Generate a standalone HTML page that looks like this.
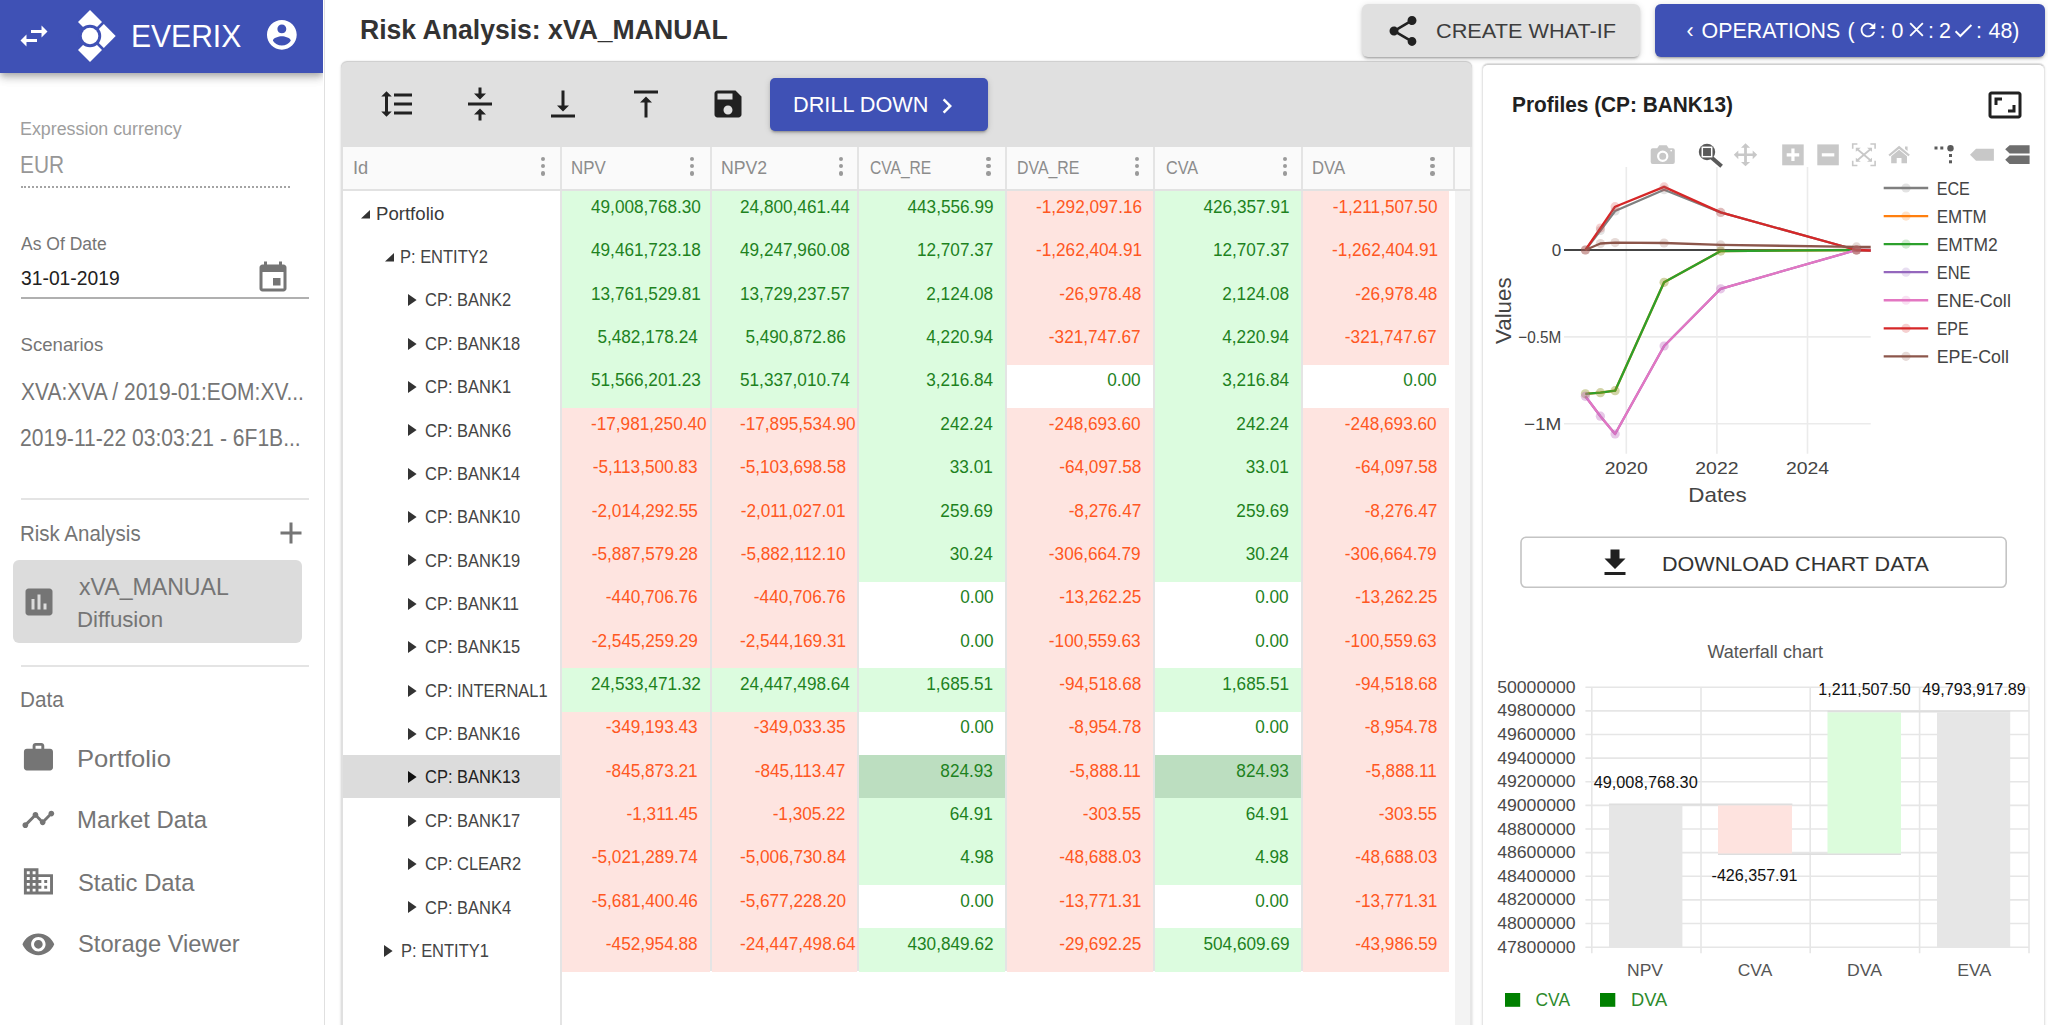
<!DOCTYPE html>
<html><head><meta charset="utf-8"><title>Everix</title>
<style>
html,body{margin:0;padding:0;background:#fff;}
body{width:2048px;height:1025px;overflow:hidden;position:relative;font-family:"Liberation Sans",sans-serif;}
.t{position:absolute;white-space:nowrap;line-height:1;}
svg{display:block;}
</style></head><body>

<div style="position:absolute;left:323.6px;top:0px;width:1.3px;height:1025px;background:#e0e0e0;"></div>
<div style="position:absolute;left:0px;top:0px;width:323px;height:73px;background:#3f51b5;box-shadow:0 3px 6px -1px rgba(0,0,0,.22),0 6px 8px 0 rgba(0,0,0,.12),0 1px 14px 0 rgba(0,0,0,.10);clip-path:inset(0 0 -30px -30px);"></div>
<svg style="position:absolute;left:15.6px;top:17.9px;" width="36" height="36" viewBox="0 0 24 24"><path fill="#fff" d="M6.99 11L3 15l3.99 4v-3H14v-2H6.99v-3zM21 9l-3.99-4v3H10v2h7.01v3L21 9z"/></svg>
<svg style="position:absolute;left:70px;top:6px" width="52" height="60" viewBox="70 6 52 60">
<path fill="#fff" d="M90 10 L102 22 L90 34 L78 22 Z"/>
<path fill="#fff" d="M103.8 24 L115.7 36 L103.8 48 L91.8 36 Z"/>
<path fill="#fff" d="M78 50 L90 38 L102 50 L90 62 Z"/>
<circle cx="90" cy="36" r="11.2" fill="#3f51b5"/>
<circle cx="90" cy="36" r="8.3" fill="#fff"/>
</svg>
<div class="t" style="left:130.78px;top:20.92px;font-size:31.4px;color:#fff;font-weight:normal;transform:scaleX(0.9576);transform-origin:left top;">EVERIX</div>
<svg style="position:absolute;left:264.1px;top:16.5px;" width="35.7" height="35.7" viewBox="0 0 24 24"><path fill="#fff" d="M12 2C6.48 2 2 6.48 2 12s4.48 10 10 10 10-4.48 10-10S17.52 2 12 2zm0 3c1.66 0 3 1.34 3 3s-1.34 3-3 3-3-1.34-3-3 1.34-3 3-3zm0 14.2c-2.5 0-4.71-1.28-6-3.22.03-1.99 4-3.08 6-3.08 1.99 0 5.970 1.09 6 3.08-1.29 1.94-3.5 3.22-6 3.22z"/></svg>
<div class="t" style="left:19.97px;top:119.23px;font-size:19.1px;color:#9e9e9e;font-weight:normal;transform:scaleX(0.9343);transform-origin:left top;">Expression currency</div>
<div class="t" style="left:20.02px;top:153.84px;font-size:23.7px;color:#979797;font-weight:normal;transform:scaleX(0.8809);transform-origin:left top;">EUR</div>
<div style="position:absolute;left:21px;top:186.3px;width:269px;height:0;border-top:2px dotted #a4a4a4;"></div>
<div class="t" style="left:20.50px;top:235.21px;font-size:18.3px;color:#757575;font-weight:normal;transform:scaleX(0.9581);transform-origin:left top;">As Of Date</div>
<div class="t" style="left:20.50px;top:267.72px;font-size:20.3px;color:#212121;font-weight:normal;transform:scaleX(0.9511);transform-origin:left top;">31-01-2019</div>
<svg style="position:absolute;left:255.1px;top:259.8px;" width="36" height="36" viewBox="0 0 24 24"><path fill="#757575" d="M17 12h-5v5h5v-5zM16 1v2H8V1H6v2H5c-1.11 0-1.99.9-1.99 2L3 19c0 1.1.89 2 2 2h14c1.1 0 2-.9 2-2V5c0-1.1-.9-2-2-2h-1V1h-2zm3 18H5V8h14v11z"/></svg>
<div style="position:absolute;left:20.5px;top:297px;width:288px;height:1.6px;background:#b0b0b0;"></div>
<div class="t" style="left:20.50px;top:336.26px;font-size:18.6px;color:#757575;font-weight:normal;">Scenarios</div>
<div class="t" style="left:20.50px;top:380.95px;font-size:23.1px;color:#757575;font-weight:normal;transform:scaleX(0.9083);transform-origin:left top;">XVA:XVA / 2019-01:EOM:XV...</div>
<div class="t" style="left:19.59px;top:427.45px;font-size:23.1px;color:#757575;font-weight:normal;transform:scaleX(0.9123);transform-origin:left top;">2019-11-22 03:03:21 - 6F1B...</div>
<div style="position:absolute;left:20.5px;top:498px;width:288px;height:1.5px;background:#e4e4e4;"></div>
<div class="t" style="left:19.55px;top:522.82px;font-size:21.6px;color:#757575;font-weight:normal;transform:scaleX(0.9483);transform-origin:left top;">Risk Analysis</div>
<svg style="position:absolute;left:272.5px;top:514.8px;" width="36" height="36" viewBox="0 0 24 24"><path fill="#757575" d="M19 13h-6v6h-2v-6H5v-2h6V5h2v6h6v2z"/></svg>
<div style="position:absolute;left:12.8px;top:559.8px;width:289.2px;height:82.8px;background:#dcdcdc;border-radius:6px;"></div>
<svg style="position:absolute;left:20.6px;top:583.5px;" width="36" height="36" viewBox="0 0 24 24"><path fill="#757575" d="M19 3H5c-1.1 0-2 .9-2 2v14c0 1.1.9 2 2 2h14c1.1 0 2-.9 2-2V5c0-1.1-.9-2-2-2zM9 17H7v-7h2v7zm4 0h-2V7h2v10zm4 0h-2v-4h2v4z"/></svg>
<div class="t" style="left:78.50px;top:574.83px;font-size:24.3px;color:#757575;font-weight:normal;transform:scaleX(0.9509);transform-origin:left top;">xVA_MANUAL</div>
<div class="t" style="left:77.48px;top:608.63px;font-size:21.7px;color:#757575;font-weight:normal;transform:scaleX(1.0241);transform-origin:left top;">Diffusion</div>
<div style="position:absolute;left:20.5px;top:665px;width:288px;height:1.5px;background:#e4e4e4;"></div>
<div class="t" style="left:19.53px;top:690.48px;font-size:21.4px;color:#757575;font-weight:normal;transform:scaleX(0.9687);transform-origin:left top;">Data</div>
<svg style="position:absolute;left:20.9px;top:740.3px;" width="34.9" height="34.9" viewBox="0 0 24 24"><path fill="#757575" d="M20 6h-4V4c0-1.11-.89-2-2-2h-4c-1.11 0-2 .89-2 2v2H4c-1.11 0-1.99.89-1.99 2L2 19c0 1.11.89 2 2 2h16c1.11 0 2-.89 2-2V8c0-1.11-.89-2-2-2zm-6 0h-4V4h4v2z"/></svg>
<div class="t" style="left:76.69px;top:746.53px;font-size:24.3px;color:#757575;font-weight:normal;transform:scaleX(1.0540);transform-origin:left top;">Portfolio</div>
<svg style="position:absolute;left:20.85px;top:802px;" width="34.7" height="34.7" viewBox="0 0 24 24"><path fill="#757575" d="M23 8c0 1.1-.9 2-2 2-.18 0-.35-.02-.51-.07l-3.56 3.55c.05.16.07.34.07.52 0 1.1-.9 2-2 2s-2-.9-2-2c0-.18.02-.36.07-.52l-2.55-2.55c-.16.05-.34.07-.52.07s-.36-.02-.52-.07l-4.55 4.56c.05.16.07.33.07.51 0 1.1-.9 2-2 2s-2-.9-2-2 .9-2 2-2c.18 0 .35.02.51.07l4.56-4.55C8.02 9.36 8 9.18 8 9c0-1.1.9-2 2-2s2 .9 2 2c0 .18-.02.36-.07.52l2.55 2.55c.16-.05.34-.07.52-.07s.36.02.52.07l3.55-3.56C19.02 8.35 19 8.18 19 8c0-1.1.9-2 2-2s2 .9 2 2z"/></svg>
<div class="t" style="left:76.84px;top:808.13px;font-size:24.3px;color:#757575;font-weight:normal;transform:scaleX(0.9823);transform-origin:left top;">Market Data</div>
<svg style="position:absolute;left:20.9px;top:864.3px;" width="34.9" height="34.9" viewBox="0 0 24 24"><path fill="#757575" d="M12 7V3H2v18h20V7H12zM6 19H4v-2h2v2zm0-4H4v-2h2v2zm0-4H4V9h2v2zm0-4H4V5h2v2zm4 12H8v-2h2v2zm0-4H8v-2h2v2zm0-4H8V9h2v2zm0-4H8V5h2v2zm10 12h-8v-2h2v-2h-2v-2h2v-2h-2V9h8v10zm-2-8h-2v2h2v-2zm0 4h-2v2h2v-2z"/></svg>
<div class="t" style="left:77.81px;top:870.70px;font-size:24.1px;color:#757575;font-weight:normal;transform:scaleX(0.9877);transform-origin:left top;">Static Data</div>
<svg style="position:absolute;left:20.85px;top:927.1px;" width="34.7" height="34.7" viewBox="0 0 24 24"><path fill="#757575" d="M12 4.5C7 4.5 2.73 7.61 1 12c1.73 4.39 6 7.5 11 7.5s9.27-3.11 11-7.5c-1.73-4.39-6-7.5-11-7.5zM12 17c-2.76 0-5-2.240-5-5s2.24-5 5-5 5 2.24 5 5-2.24 5-5 5zm0-8c-1.66 0-3 1.34-3 3s1.34 3 3 3 3-1.34 3-3-1.34-3-3-3z"/></svg>
<div class="t" style="left:77.84px;top:932.18px;font-size:24.6px;color:#757575;font-weight:normal;transform:scaleX(0.9645);transform-origin:left top;">Storage Viewer</div>
<div class="t" style="left:359.56px;top:15.16px;font-size:28.4px;color:#333333;font-weight:bold;transform:scaleX(0.9362);transform-origin:left top;">Risk Analysis: xVA_MANUAL</div>
<div style="position:absolute;left:1362px;top:4px;width:278px;height:53px;background:#e0e0e0;border-radius:6px;box-shadow:0 3px 2px -2px rgba(0,0,0,.2),0 2px 3px 0 rgba(0,0,0,.14),0 1px 7px 0 rgba(0,0,0,.12);"></div>
<svg style="position:absolute;left:1385px;top:13px;" width="36" height="36" viewBox="0 0 24 24"><path fill="#212121" d="M18 16.08c-.76 0-1.44.3-1.96.77L8.91 12.7c.05-.23.09-.46.09-.7s-.04-.47-.09-.7l7.05-4.11c.54.5 1.25.81 2.04.81 1.66 0 3-1.34 3-3s-1.34-3-3-3-3 1.34-3 3c0 .24.04.47.09.7L8.04 9.81C7.5 9.31 6.79 9 6 9c-1.66 0-3 1.34-3 3s1.34 3 3 3c.79 0 1.5-.31 2.04-.81l7.12 4.16c-.05.21-.08.43-.08.65 0 1.61 1.31 2.92 2.92 2.92 1.61 0 2.92-1.31 2.92-2.92s-1.31-2.92-2.92-2.92z"/></svg>
<div class="t" style="left:1435.85px;top:21.06px;font-size:20.6px;color:#3d3d3d;font-weight:normal;transform:scaleX(1.0534);transform-origin:left top;">CREATE WHAT-IF</div>
<div style="position:absolute;left:1655px;top:4px;width:389.5px;height:53px;background:#3f51b5;border-radius:6px;box-shadow:0 3px 2px -2px rgba(0,0,0,.2),0 2px 3px 0 rgba(0,0,0,.14),0 1px 7px 0 rgba(0,0,0,.12);"></div>
<div class="t" style="left:1686.50px;top:20.88px;font-size:21.4px;color:#ffffff;font-weight:normal;">&#8249;</div>
<div class="t" style="left:1701.60px;top:20.88px;font-size:21.4px;color:#ffffff;font-weight:normal;">OPERATIONS</div>
<div class="t" style="left:1847.50px;top:20.88px;font-size:21.4px;color:#ffffff;font-weight:normal;">(</div>
<svg style="position:absolute;left:1857px;top:19px" width="22" height="22" viewBox="0 0 24 24"><path fill="#fff" d="M17.65 6.35A7.958 7.958 0 0 0 12 4c-4.42 0-7.99 3.58-7.99 8s3.57 8 7.99 8c3.73 0 6.84-2.55 7.73-6h-2.08A5.99 5.99 0 0 1 12 18c-3.31 0-6-2.69-6-6s2.69-6 6-6c1.66 0 3.14.69 4.22 1.78L13 11h7V4l-2.35 2.35z"/></svg>
<div class="t" style="left:1879.50px;top:20.88px;font-size:21.4px;color:#ffffff;font-weight:normal;">:</div>
<div class="t" style="left:1891.50px;top:20.88px;font-size:21.4px;color:#ffffff;font-weight:normal;">0</div>
<svg style="position:absolute;left:1907px;top:20px" width="19" height="19" viewBox="0 0 24 24"><path stroke="#fff" stroke-width="2.4" d="M4 4L20 20M20 4L4 20"/></svg>
<div class="t" style="left:1928.00px;top:20.88px;font-size:21.4px;color:#ffffff;font-weight:normal;">:</div>
<div class="t" style="left:1939.00px;top:20.88px;font-size:21.4px;color:#ffffff;font-weight:normal;">2</div>
<svg style="position:absolute;left:1954px;top:21px" width="19" height="19" viewBox="0 0 24 24"><path fill="none" stroke="#fff" stroke-width="2.4" d="M2 13L8 19L22 5"/></svg>
<div class="t" style="left:1976.00px;top:20.88px;font-size:21.4px;color:#ffffff;font-weight:normal;">:</div>
<div class="t" style="left:1988.50px;top:20.88px;font-size:21.4px;color:#ffffff;font-weight:normal;">48)</div>
<div style="position:absolute;left:341px;top:61.6px;width:1131px;height:980px;background:#e0e0e0;border-radius:6px;box-shadow:0 -1px 1px rgba(0,0,0,.16),0 0 3px rgba(0,0,0,.14);"></div>
<svg style="position:absolute;left:379px;top:86.2px;" width="36" height="36" viewBox="0 0 24 24"><path fill="#212121" d="M6 7h2.5L5 3.5 1.5 7H4v10H1.5L5 20.5 8.5 17H6V7zm4-2v2h12V5H10zm0 14h12v-2H10v2zm0-6h12v-2H10v2z"/></svg>
<svg style="position:absolute;left:462px;top:86.2px;" width="36" height="36" viewBox="0 0 24 24"><path fill="#212121" d="M8 19h3v4h2v-4h3l-4-4-4 4zm8-14h-3V1h-2v4H8l4 4 4-4zM4 11v2h16v-2H4z"/></svg>
<svg style="position:absolute;left:545px;top:86.2px;" width="36" height="36" viewBox="0 0 24 24"><path fill="#212121" d="M16 13h-3V3h-2v10H8l4 4 4-4zM4 19v2h16v-2H4z"/></svg>
<svg style="position:absolute;left:628px;top:86.2px;" width="36" height="36" viewBox="0 0 24 24"><path fill="#212121" d="M8 11h3v10h2V11h3l-4-4-4 4zM4 3v2h16V3H4z"/></svg>
<svg style="position:absolute;left:710px;top:86.2px;" width="36" height="36" viewBox="0 0 24 24"><path fill="#212121" d="M17 3H5c-1.11 0-2 .9-2 2v14c0 1.1.89 2 2 2h14c1.1 0 2-.9 2-2V7l-4-4zm-5 16c-1.66 0-3-1.34-3-3s1.34-3 3-3 3 1.34 3 3-1.34 3-3 3zm3-10H5V5h10v4z"/></svg>
<div style="position:absolute;left:770px;top:78px;width:218px;height:52.5px;background:#3f51b5;border-radius:5px;box-shadow:0 3px 2px -2px rgba(0,0,0,.2),0 2px 3px 0 rgba(0,0,0,.14),0 1px 7px 0 rgba(0,0,0,.12);"></div>
<div class="t" style="left:792.79px;top:94.70px;font-size:21.5px;color:#fff;font-weight:normal;transform:scaleX(1.0101);transform-origin:left top;">DRILL DOWN</div>
<svg style="position:absolute;left:931.8px;top:90.5px;" width="30" height="30" viewBox="0 0 24 24"><path fill="#fff" d="M10 6L8.59 7.41 13.17 12l-4.58 4.59L10 18l6-6z"/></svg>
<div style="position:absolute;left:343px;top:146.5px;width:1128px;height:900px;background:#ffffff;"></div>
<div style="position:absolute;left:343px;top:146.5px;width:1128px;height:42.5px;background:#fafafa;"></div>
<div style="position:absolute;left:343px;top:189px;width:1128px;height:2px;background:#e2e2e2;"></div>
<div class="t" style="left:352.97px;top:160.33px;font-size:17.8px;color:#8c8c8c;font-weight:normal;transform:scaleX(1.0278);transform-origin:left top;">Id</div>
<div style="position:absolute;left:540.70px;top:156.50px;width:4.6px;height:4.6px;border-radius:50%;background:#9a9a9a;"></div>
<div style="position:absolute;left:540.70px;top:163.90px;width:4.6px;height:4.6px;border-radius:50%;background:#9a9a9a;"></div>
<div style="position:absolute;left:540.70px;top:171.30px;width:4.6px;height:4.6px;border-radius:50%;background:#9a9a9a;"></div>
<div class="t" style="left:571.35px;top:160.33px;font-size:17.8px;color:#8c8c8c;font-weight:normal;transform:scaleX(0.9496);transform-origin:left top;">NPV</div>
<div style="position:absolute;left:689.60px;top:156.50px;width:4.6px;height:4.6px;border-radius:50%;background:#9a9a9a;"></div>
<div style="position:absolute;left:689.60px;top:163.90px;width:4.6px;height:4.6px;border-radius:50%;background:#9a9a9a;"></div>
<div style="position:absolute;left:689.60px;top:171.30px;width:4.6px;height:4.6px;border-radius:50%;background:#9a9a9a;"></div>
<div class="t" style="left:720.71px;top:160.33px;font-size:17.8px;color:#8c8c8c;font-weight:normal;transform:scaleX(0.9941);transform-origin:left top;">NPV2</div>
<div style="position:absolute;left:838.60px;top:156.50px;width:4.6px;height:4.6px;border-radius:50%;background:#9a9a9a;"></div>
<div style="position:absolute;left:838.60px;top:163.90px;width:4.6px;height:4.6px;border-radius:50%;background:#9a9a9a;"></div>
<div style="position:absolute;left:838.60px;top:171.30px;width:4.6px;height:4.6px;border-radius:50%;background:#9a9a9a;"></div>
<div class="t" style="left:869.50px;top:160.33px;font-size:17.8px;color:#8c8c8c;font-weight:normal;transform:scaleX(0.8775);transform-origin:left top;">CVA_RE</div>
<div style="position:absolute;left:986.40px;top:156.50px;width:4.6px;height:4.6px;border-radius:50%;background:#9a9a9a;"></div>
<div style="position:absolute;left:986.40px;top:163.90px;width:4.6px;height:4.6px;border-radius:50%;background:#9a9a9a;"></div>
<div style="position:absolute;left:986.40px;top:171.30px;width:4.6px;height:4.6px;border-radius:50%;background:#9a9a9a;"></div>
<div class="t" style="left:1016.71px;top:160.33px;font-size:17.8px;color:#8c8c8c;font-weight:normal;transform:scaleX(0.8946);transform-origin:left top;">DVA_RE</div>
<div style="position:absolute;left:1134.50px;top:156.50px;width:4.6px;height:4.6px;border-radius:50%;background:#9a9a9a;"></div>
<div style="position:absolute;left:1134.50px;top:163.90px;width:4.6px;height:4.6px;border-radius:50%;background:#9a9a9a;"></div>
<div style="position:absolute;left:1134.50px;top:171.30px;width:4.6px;height:4.6px;border-radius:50%;background:#9a9a9a;"></div>
<div class="t" style="left:1165.50px;top:160.33px;font-size:17.8px;color:#8c8c8c;font-weight:normal;transform:scaleX(0.9129);transform-origin:left top;">CVA</div>
<div style="position:absolute;left:1282.50px;top:156.50px;width:4.6px;height:4.6px;border-radius:50%;background:#9a9a9a;"></div>
<div style="position:absolute;left:1282.50px;top:163.90px;width:4.6px;height:4.6px;border-radius:50%;background:#9a9a9a;"></div>
<div style="position:absolute;left:1282.50px;top:171.30px;width:4.6px;height:4.6px;border-radius:50%;background:#9a9a9a;"></div>
<div class="t" style="left:1312.26px;top:160.33px;font-size:17.8px;color:#8c8c8c;font-weight:normal;transform:scaleX(0.9395);transform-origin:left top;">DVA</div>
<div style="position:absolute;left:1430.10px;top:156.50px;width:4.6px;height:4.6px;border-radius:50%;background:#9a9a9a;"></div>
<div style="position:absolute;left:1430.10px;top:163.90px;width:4.6px;height:4.6px;border-radius:50%;background:#9a9a9a;"></div>
<div style="position:absolute;left:1430.10px;top:171.30px;width:4.6px;height:4.6px;border-radius:50%;background:#9a9a9a;"></div>
<div style="position:absolute;left:562.00px;top:191.30px;width:147.50px;height:43.76px;background:#dcfcdf;"></div>
<div class="t" style="left:590.50px;top:198.01px;font-size:18.3px;color:#1e821e;font-weight:normal;transform:scaleX(0.9400);transform-origin:left top;">49,008,768.30</div>
<div style="position:absolute;left:711.50px;top:191.30px;width:145.85px;height:43.76px;background:#dcfcdf;"></div>
<div class="t" style="left:740.00px;top:198.01px;font-size:18.3px;color:#1e821e;font-weight:normal;transform:scaleX(0.9400);transform-origin:left top;">24,800,461.44</div>
<div style="position:absolute;left:859.35px;top:191.30px;width:145.80px;height:43.76px;background:#dcfcdf;"></div>
<div class="t" style="right:1054.85px;text-align:right;top:198.01px;font-size:18.3px;color:#1e821e;font-weight:normal;transform:scaleX(0.9400);transform-origin:right top;">443,556.99</div>
<div style="position:absolute;left:1007.15px;top:191.30px;width:145.85px;height:43.76px;background:#fee4e0;"></div>
<div class="t" style="left:1035.65px;top:198.01px;font-size:18.3px;color:#ff5722;font-weight:normal;transform:scaleX(0.9400);transform-origin:left top;">-1,292,097.16</div>
<div style="position:absolute;left:1155.00px;top:191.30px;width:146.00px;height:43.76px;background:#dcfcdf;"></div>
<div class="t" style="right:759.00px;text-align:right;top:198.01px;font-size:18.3px;color:#1e821e;font-weight:normal;transform:scaleX(0.9400);transform-origin:right top;">426,357.91</div>
<div style="position:absolute;left:1303.00px;top:191.30px;width:146.00px;height:43.76px;background:#fee4e0;"></div>
<div class="t" style="right:611.00px;text-align:right;top:198.01px;font-size:18.3px;color:#ff5722;font-weight:normal;transform:scaleX(0.9400);transform-origin:right top;">-1,211,507.50</div>
<svg style="position:absolute;left:361.00px;top:209.80px" width="9" height="9" viewBox="0 0 9 9"><path fill="#333" d="M9 0L9 8.5L0 8.5Z"/></svg>
<div class="t" style="left:376.47px;top:204.76px;font-size:18px;color:#3a3a3a;font-weight:normal;transform:scaleX(1.0335);transform-origin:left top;">Portfolio</div>
<div style="position:absolute;left:562.00px;top:234.66px;width:147.50px;height:43.76px;background:#dcfcdf;"></div>
<div class="t" style="left:590.50px;top:241.37px;font-size:18.3px;color:#1e821e;font-weight:normal;transform:scaleX(0.9400);transform-origin:left top;">49,461,723.18</div>
<div style="position:absolute;left:711.50px;top:234.66px;width:145.85px;height:43.76px;background:#dcfcdf;"></div>
<div class="t" style="left:740.00px;top:241.37px;font-size:18.3px;color:#1e821e;font-weight:normal;transform:scaleX(0.9400);transform-origin:left top;">49,247,960.08</div>
<div style="position:absolute;left:859.35px;top:234.66px;width:145.80px;height:43.76px;background:#dcfcdf;"></div>
<div class="t" style="right:1054.85px;text-align:right;top:241.37px;font-size:18.3px;color:#1e821e;font-weight:normal;transform:scaleX(0.9400);transform-origin:right top;">12,707.37</div>
<div style="position:absolute;left:1007.15px;top:234.66px;width:145.85px;height:43.76px;background:#fee4e0;"></div>
<div class="t" style="left:1035.65px;top:241.37px;font-size:18.3px;color:#ff5722;font-weight:normal;transform:scaleX(0.9400);transform-origin:left top;">-1,262,404.91</div>
<div style="position:absolute;left:1155.00px;top:234.66px;width:146.00px;height:43.76px;background:#dcfcdf;"></div>
<div class="t" style="right:759.00px;text-align:right;top:241.37px;font-size:18.3px;color:#1e821e;font-weight:normal;transform:scaleX(0.9400);transform-origin:right top;">12,707.37</div>
<div style="position:absolute;left:1303.00px;top:234.66px;width:146.00px;height:43.76px;background:#fee4e0;"></div>
<div class="t" style="left:1331.50px;top:241.37px;font-size:18.3px;color:#ff5722;font-weight:normal;transform:scaleX(0.9400);transform-origin:left top;">-1,262,404.91</div>
<svg style="position:absolute;left:384.50px;top:253.16px" width="9" height="9" viewBox="0 0 9 9"><path fill="#333" d="M9 0L9 8.5L0 8.5Z"/></svg>
<div class="t" style="left:400.08px;top:248.12px;font-size:18px;color:#444444;font-weight:normal;transform:scaleX(0.9150);transform-origin:left top;">P: ENTITY2</div>
<div style="position:absolute;left:562.00px;top:278.02px;width:147.50px;height:43.76px;background:#dcfcdf;"></div>
<div class="t" style="left:590.50px;top:284.73px;font-size:18.3px;color:#1e821e;font-weight:normal;transform:scaleX(0.9400);transform-origin:left top;">13,761,529.81</div>
<div style="position:absolute;left:711.50px;top:278.02px;width:145.85px;height:43.76px;background:#dcfcdf;"></div>
<div class="t" style="left:740.00px;top:284.73px;font-size:18.3px;color:#1e821e;font-weight:normal;transform:scaleX(0.9400);transform-origin:left top;">13,729,237.57</div>
<div style="position:absolute;left:859.35px;top:278.02px;width:145.80px;height:43.76px;background:#dcfcdf;"></div>
<div class="t" style="right:1054.85px;text-align:right;top:284.73px;font-size:18.3px;color:#1e821e;font-weight:normal;transform:scaleX(0.9400);transform-origin:right top;">2,124.08</div>
<div style="position:absolute;left:1007.15px;top:278.02px;width:145.85px;height:43.76px;background:#fee4e0;"></div>
<div class="t" style="right:907.00px;text-align:right;top:284.73px;font-size:18.3px;color:#ff5722;font-weight:normal;transform:scaleX(0.9400);transform-origin:right top;">-26,978.48</div>
<div style="position:absolute;left:1155.00px;top:278.02px;width:146.00px;height:43.76px;background:#dcfcdf;"></div>
<div class="t" style="right:759.00px;text-align:right;top:284.73px;font-size:18.3px;color:#1e821e;font-weight:normal;transform:scaleX(0.9400);transform-origin:right top;">2,124.08</div>
<div style="position:absolute;left:1303.00px;top:278.02px;width:146.00px;height:43.76px;background:#fee4e0;"></div>
<div class="t" style="right:611.00px;text-align:right;top:284.73px;font-size:18.3px;color:#ff5722;font-weight:normal;transform:scaleX(0.9400);transform-origin:right top;">-26,978.48</div>
<svg style="position:absolute;left:407.70px;top:294.32px" width="9" height="12" viewBox="0 0 9 12"><path fill="#333" d="M0 0L8.6 6L0 12Z"/></svg>
<div class="t" style="left:425.20px;top:291.48px;font-size:18px;color:#444444;font-weight:normal;transform:scaleX(0.9150);transform-origin:left top;">CP: BANK2</div>
<div style="position:absolute;left:562.00px;top:321.38px;width:147.50px;height:43.76px;background:#dcfcdf;"></div>
<div class="t" style="right:1350.50px;text-align:right;top:328.09px;font-size:18.3px;color:#1e821e;font-weight:normal;transform:scaleX(0.9400);transform-origin:right top;">5,482,178.24</div>
<div style="position:absolute;left:711.50px;top:321.38px;width:145.85px;height:43.76px;background:#dcfcdf;"></div>
<div class="t" style="right:1202.65px;text-align:right;top:328.09px;font-size:18.3px;color:#1e821e;font-weight:normal;transform:scaleX(0.9400);transform-origin:right top;">5,490,872.86</div>
<div style="position:absolute;left:859.35px;top:321.38px;width:145.80px;height:43.76px;background:#dcfcdf;"></div>
<div class="t" style="right:1054.85px;text-align:right;top:328.09px;font-size:18.3px;color:#1e821e;font-weight:normal;transform:scaleX(0.9400);transform-origin:right top;">4,220.94</div>
<div style="position:absolute;left:1007.15px;top:321.38px;width:145.85px;height:43.76px;background:#fee4e0;"></div>
<div class="t" style="right:907.00px;text-align:right;top:328.09px;font-size:18.3px;color:#ff5722;font-weight:normal;transform:scaleX(0.9400);transform-origin:right top;">-321,747.67</div>
<div style="position:absolute;left:1155.00px;top:321.38px;width:146.00px;height:43.76px;background:#dcfcdf;"></div>
<div class="t" style="right:759.00px;text-align:right;top:328.09px;font-size:18.3px;color:#1e821e;font-weight:normal;transform:scaleX(0.9400);transform-origin:right top;">4,220.94</div>
<div style="position:absolute;left:1303.00px;top:321.38px;width:146.00px;height:43.76px;background:#fee4e0;"></div>
<div class="t" style="right:611.00px;text-align:right;top:328.09px;font-size:18.3px;color:#ff5722;font-weight:normal;transform:scaleX(0.9400);transform-origin:right top;">-321,747.67</div>
<svg style="position:absolute;left:407.70px;top:337.68px" width="9" height="12" viewBox="0 0 9 12"><path fill="#333" d="M0 0L8.6 6L0 12Z"/></svg>
<div class="t" style="left:425.20px;top:334.84px;font-size:18px;color:#444444;font-weight:normal;transform:scaleX(0.9150);transform-origin:left top;">CP: BANK18</div>
<div style="position:absolute;left:562.00px;top:364.74px;width:147.50px;height:43.76px;background:#dcfcdf;"></div>
<div class="t" style="left:590.50px;top:371.45px;font-size:18.3px;color:#1e821e;font-weight:normal;transform:scaleX(0.9400);transform-origin:left top;">51,566,201.23</div>
<div style="position:absolute;left:711.50px;top:364.74px;width:145.85px;height:43.76px;background:#dcfcdf;"></div>
<div class="t" style="left:740.00px;top:371.45px;font-size:18.3px;color:#1e821e;font-weight:normal;transform:scaleX(0.9400);transform-origin:left top;">51,337,010.74</div>
<div style="position:absolute;left:859.35px;top:364.74px;width:145.80px;height:43.76px;background:#dcfcdf;"></div>
<div class="t" style="right:1054.85px;text-align:right;top:371.45px;font-size:18.3px;color:#1e821e;font-weight:normal;transform:scaleX(0.9400);transform-origin:right top;">3,216.84</div>
<div style="position:absolute;left:1007.15px;top:364.74px;width:145.85px;height:43.76px;background:#ffffff;"></div>
<div class="t" style="right:907.00px;text-align:right;top:371.45px;font-size:18.3px;color:#1e821e;font-weight:normal;transform:scaleX(0.9400);transform-origin:right top;">0.00</div>
<div style="position:absolute;left:1155.00px;top:364.74px;width:146.00px;height:43.76px;background:#dcfcdf;"></div>
<div class="t" style="right:759.00px;text-align:right;top:371.45px;font-size:18.3px;color:#1e821e;font-weight:normal;transform:scaleX(0.9400);transform-origin:right top;">3,216.84</div>
<div style="position:absolute;left:1303.00px;top:364.74px;width:146.00px;height:43.76px;background:#ffffff;"></div>
<div class="t" style="right:611.00px;text-align:right;top:371.45px;font-size:18.3px;color:#1e821e;font-weight:normal;transform:scaleX(0.9400);transform-origin:right top;">0.00</div>
<svg style="position:absolute;left:407.70px;top:381.04px" width="9" height="12" viewBox="0 0 9 12"><path fill="#333" d="M0 0L8.6 6L0 12Z"/></svg>
<div class="t" style="left:425.20px;top:378.20px;font-size:18px;color:#444444;font-weight:normal;transform:scaleX(0.9150);transform-origin:left top;">CP: BANK1</div>
<div style="position:absolute;left:562.00px;top:408.10px;width:147.50px;height:43.76px;background:#fee4e0;"></div>
<div class="t" style="left:590.50px;top:414.81px;font-size:18.3px;color:#ff5722;font-weight:normal;transform:scaleX(0.9400);transform-origin:left top;">-17,981,250.40</div>
<div style="position:absolute;left:711.50px;top:408.10px;width:145.85px;height:43.76px;background:#fee4e0;"></div>
<div class="t" style="left:740.00px;top:414.81px;font-size:18.3px;color:#ff5722;font-weight:normal;transform:scaleX(0.9400);transform-origin:left top;">-17,895,534.90</div>
<div style="position:absolute;left:859.35px;top:408.10px;width:145.80px;height:43.76px;background:#dcfcdf;"></div>
<div class="t" style="right:1054.85px;text-align:right;top:414.81px;font-size:18.3px;color:#1e821e;font-weight:normal;transform:scaleX(0.9400);transform-origin:right top;">242.24</div>
<div style="position:absolute;left:1007.15px;top:408.10px;width:145.85px;height:43.76px;background:#fee4e0;"></div>
<div class="t" style="right:907.00px;text-align:right;top:414.81px;font-size:18.3px;color:#ff5722;font-weight:normal;transform:scaleX(0.9400);transform-origin:right top;">-248,693.60</div>
<div style="position:absolute;left:1155.00px;top:408.10px;width:146.00px;height:43.76px;background:#dcfcdf;"></div>
<div class="t" style="right:759.00px;text-align:right;top:414.81px;font-size:18.3px;color:#1e821e;font-weight:normal;transform:scaleX(0.9400);transform-origin:right top;">242.24</div>
<div style="position:absolute;left:1303.00px;top:408.10px;width:146.00px;height:43.76px;background:#fee4e0;"></div>
<div class="t" style="right:611.00px;text-align:right;top:414.81px;font-size:18.3px;color:#ff5722;font-weight:normal;transform:scaleX(0.9400);transform-origin:right top;">-248,693.60</div>
<svg style="position:absolute;left:407.70px;top:424.40px" width="9" height="12" viewBox="0 0 9 12"><path fill="#333" d="M0 0L8.6 6L0 12Z"/></svg>
<div class="t" style="left:425.20px;top:421.56px;font-size:18px;color:#444444;font-weight:normal;transform:scaleX(0.9150);transform-origin:left top;">CP: BANK6</div>
<div style="position:absolute;left:562.00px;top:451.46px;width:147.50px;height:43.76px;background:#fee4e0;"></div>
<div class="t" style="right:1350.50px;text-align:right;top:458.17px;font-size:18.3px;color:#ff5722;font-weight:normal;transform:scaleX(0.9400);transform-origin:right top;">-5,113,500.83</div>
<div style="position:absolute;left:711.50px;top:451.46px;width:145.85px;height:43.76px;background:#fee4e0;"></div>
<div class="t" style="left:740.00px;top:458.17px;font-size:18.3px;color:#ff5722;font-weight:normal;transform:scaleX(0.9400);transform-origin:left top;">-5,103,698.58</div>
<div style="position:absolute;left:859.35px;top:451.46px;width:145.80px;height:43.76px;background:#dcfcdf;"></div>
<div class="t" style="right:1054.85px;text-align:right;top:458.17px;font-size:18.3px;color:#1e821e;font-weight:normal;transform:scaleX(0.9400);transform-origin:right top;">33.01</div>
<div style="position:absolute;left:1007.15px;top:451.46px;width:145.85px;height:43.76px;background:#fee4e0;"></div>
<div class="t" style="right:907.00px;text-align:right;top:458.17px;font-size:18.3px;color:#ff5722;font-weight:normal;transform:scaleX(0.9400);transform-origin:right top;">-64,097.58</div>
<div style="position:absolute;left:1155.00px;top:451.46px;width:146.00px;height:43.76px;background:#dcfcdf;"></div>
<div class="t" style="right:759.00px;text-align:right;top:458.17px;font-size:18.3px;color:#1e821e;font-weight:normal;transform:scaleX(0.9400);transform-origin:right top;">33.01</div>
<div style="position:absolute;left:1303.00px;top:451.46px;width:146.00px;height:43.76px;background:#fee4e0;"></div>
<div class="t" style="right:611.00px;text-align:right;top:458.17px;font-size:18.3px;color:#ff5722;font-weight:normal;transform:scaleX(0.9400);transform-origin:right top;">-64,097.58</div>
<svg style="position:absolute;left:407.70px;top:467.76px" width="9" height="12" viewBox="0 0 9 12"><path fill="#333" d="M0 0L8.6 6L0 12Z"/></svg>
<div class="t" style="left:425.20px;top:464.92px;font-size:18px;color:#444444;font-weight:normal;transform:scaleX(0.9150);transform-origin:left top;">CP: BANK14</div>
<div style="position:absolute;left:562.00px;top:494.82px;width:147.50px;height:43.76px;background:#fee4e0;"></div>
<div class="t" style="right:1350.50px;text-align:right;top:501.53px;font-size:18.3px;color:#ff5722;font-weight:normal;transform:scaleX(0.9400);transform-origin:right top;">-2,014,292.55</div>
<div style="position:absolute;left:711.50px;top:494.82px;width:145.85px;height:43.76px;background:#fee4e0;"></div>
<div class="t" style="right:1202.65px;text-align:right;top:501.53px;font-size:18.3px;color:#ff5722;font-weight:normal;transform:scaleX(0.9400);transform-origin:right top;">-2,011,027.01</div>
<div style="position:absolute;left:859.35px;top:494.82px;width:145.80px;height:43.76px;background:#dcfcdf;"></div>
<div class="t" style="right:1054.85px;text-align:right;top:501.53px;font-size:18.3px;color:#1e821e;font-weight:normal;transform:scaleX(0.9400);transform-origin:right top;">259.69</div>
<div style="position:absolute;left:1007.15px;top:494.82px;width:145.85px;height:43.76px;background:#fee4e0;"></div>
<div class="t" style="right:907.00px;text-align:right;top:501.53px;font-size:18.3px;color:#ff5722;font-weight:normal;transform:scaleX(0.9400);transform-origin:right top;">-8,276.47</div>
<div style="position:absolute;left:1155.00px;top:494.82px;width:146.00px;height:43.76px;background:#dcfcdf;"></div>
<div class="t" style="right:759.00px;text-align:right;top:501.53px;font-size:18.3px;color:#1e821e;font-weight:normal;transform:scaleX(0.9400);transform-origin:right top;">259.69</div>
<div style="position:absolute;left:1303.00px;top:494.82px;width:146.00px;height:43.76px;background:#fee4e0;"></div>
<div class="t" style="right:611.00px;text-align:right;top:501.53px;font-size:18.3px;color:#ff5722;font-weight:normal;transform:scaleX(0.9400);transform-origin:right top;">-8,276.47</div>
<svg style="position:absolute;left:407.70px;top:511.12px" width="9" height="12" viewBox="0 0 9 12"><path fill="#333" d="M0 0L8.6 6L0 12Z"/></svg>
<div class="t" style="left:425.20px;top:508.28px;font-size:18px;color:#444444;font-weight:normal;transform:scaleX(0.9150);transform-origin:left top;">CP: BANK10</div>
<div style="position:absolute;left:562.00px;top:538.18px;width:147.50px;height:43.76px;background:#fee4e0;"></div>
<div class="t" style="right:1350.50px;text-align:right;top:544.89px;font-size:18.3px;color:#ff5722;font-weight:normal;transform:scaleX(0.9400);transform-origin:right top;">-5,887,579.28</div>
<div style="position:absolute;left:711.50px;top:538.18px;width:145.85px;height:43.76px;background:#fee4e0;"></div>
<div class="t" style="right:1202.65px;text-align:right;top:544.89px;font-size:18.3px;color:#ff5722;font-weight:normal;transform:scaleX(0.9400);transform-origin:right top;">-5,882,112.10</div>
<div style="position:absolute;left:859.35px;top:538.18px;width:145.80px;height:43.76px;background:#dcfcdf;"></div>
<div class="t" style="right:1054.85px;text-align:right;top:544.89px;font-size:18.3px;color:#1e821e;font-weight:normal;transform:scaleX(0.9400);transform-origin:right top;">30.24</div>
<div style="position:absolute;left:1007.15px;top:538.18px;width:145.85px;height:43.76px;background:#fee4e0;"></div>
<div class="t" style="right:907.00px;text-align:right;top:544.89px;font-size:18.3px;color:#ff5722;font-weight:normal;transform:scaleX(0.9400);transform-origin:right top;">-306,664.79</div>
<div style="position:absolute;left:1155.00px;top:538.18px;width:146.00px;height:43.76px;background:#dcfcdf;"></div>
<div class="t" style="right:759.00px;text-align:right;top:544.89px;font-size:18.3px;color:#1e821e;font-weight:normal;transform:scaleX(0.9400);transform-origin:right top;">30.24</div>
<div style="position:absolute;left:1303.00px;top:538.18px;width:146.00px;height:43.76px;background:#fee4e0;"></div>
<div class="t" style="right:611.00px;text-align:right;top:544.89px;font-size:18.3px;color:#ff5722;font-weight:normal;transform:scaleX(0.9400);transform-origin:right top;">-306,664.79</div>
<svg style="position:absolute;left:407.70px;top:554.48px" width="9" height="12" viewBox="0 0 9 12"><path fill="#333" d="M0 0L8.6 6L0 12Z"/></svg>
<div class="t" style="left:425.20px;top:551.64px;font-size:18px;color:#444444;font-weight:normal;transform:scaleX(0.9150);transform-origin:left top;">CP: BANK19</div>
<div style="position:absolute;left:562.00px;top:581.54px;width:147.50px;height:43.76px;background:#fee4e0;"></div>
<div class="t" style="right:1350.50px;text-align:right;top:588.25px;font-size:18.3px;color:#ff5722;font-weight:normal;transform:scaleX(0.9400);transform-origin:right top;">-440,706.76</div>
<div style="position:absolute;left:711.50px;top:581.54px;width:145.85px;height:43.76px;background:#fee4e0;"></div>
<div class="t" style="right:1202.65px;text-align:right;top:588.25px;font-size:18.3px;color:#ff5722;font-weight:normal;transform:scaleX(0.9400);transform-origin:right top;">-440,706.76</div>
<div style="position:absolute;left:859.35px;top:581.54px;width:145.80px;height:43.76px;background:#ffffff;"></div>
<div class="t" style="right:1054.85px;text-align:right;top:588.25px;font-size:18.3px;color:#1e821e;font-weight:normal;transform:scaleX(0.9400);transform-origin:right top;">0.00</div>
<div style="position:absolute;left:1007.15px;top:581.54px;width:145.85px;height:43.76px;background:#fee4e0;"></div>
<div class="t" style="right:907.00px;text-align:right;top:588.25px;font-size:18.3px;color:#ff5722;font-weight:normal;transform:scaleX(0.9400);transform-origin:right top;">-13,262.25</div>
<div style="position:absolute;left:1155.00px;top:581.54px;width:146.00px;height:43.76px;background:#ffffff;"></div>
<div class="t" style="right:759.00px;text-align:right;top:588.25px;font-size:18.3px;color:#1e821e;font-weight:normal;transform:scaleX(0.9400);transform-origin:right top;">0.00</div>
<div style="position:absolute;left:1303.00px;top:581.54px;width:146.00px;height:43.76px;background:#fee4e0;"></div>
<div class="t" style="right:611.00px;text-align:right;top:588.25px;font-size:18.3px;color:#ff5722;font-weight:normal;transform:scaleX(0.9400);transform-origin:right top;">-13,262.25</div>
<svg style="position:absolute;left:407.70px;top:597.84px" width="9" height="12" viewBox="0 0 9 12"><path fill="#333" d="M0 0L8.6 6L0 12Z"/></svg>
<div class="t" style="left:425.20px;top:595.00px;font-size:18px;color:#444444;font-weight:normal;transform:scaleX(0.9150);transform-origin:left top;">CP: BANK11</div>
<div style="position:absolute;left:562.00px;top:624.90px;width:147.50px;height:43.76px;background:#fee4e0;"></div>
<div class="t" style="right:1350.50px;text-align:right;top:631.61px;font-size:18.3px;color:#ff5722;font-weight:normal;transform:scaleX(0.9400);transform-origin:right top;">-2,545,259.29</div>
<div style="position:absolute;left:711.50px;top:624.90px;width:145.85px;height:43.76px;background:#fee4e0;"></div>
<div class="t" style="left:740.00px;top:631.61px;font-size:18.3px;color:#ff5722;font-weight:normal;transform:scaleX(0.9400);transform-origin:left top;">-2,544,169.31</div>
<div style="position:absolute;left:859.35px;top:624.90px;width:145.80px;height:43.76px;background:#ffffff;"></div>
<div class="t" style="right:1054.85px;text-align:right;top:631.61px;font-size:18.3px;color:#1e821e;font-weight:normal;transform:scaleX(0.9400);transform-origin:right top;">0.00</div>
<div style="position:absolute;left:1007.15px;top:624.90px;width:145.85px;height:43.76px;background:#fee4e0;"></div>
<div class="t" style="right:907.00px;text-align:right;top:631.61px;font-size:18.3px;color:#ff5722;font-weight:normal;transform:scaleX(0.9400);transform-origin:right top;">-100,559.63</div>
<div style="position:absolute;left:1155.00px;top:624.90px;width:146.00px;height:43.76px;background:#ffffff;"></div>
<div class="t" style="right:759.00px;text-align:right;top:631.61px;font-size:18.3px;color:#1e821e;font-weight:normal;transform:scaleX(0.9400);transform-origin:right top;">0.00</div>
<div style="position:absolute;left:1303.00px;top:624.90px;width:146.00px;height:43.76px;background:#fee4e0;"></div>
<div class="t" style="right:611.00px;text-align:right;top:631.61px;font-size:18.3px;color:#ff5722;font-weight:normal;transform:scaleX(0.9400);transform-origin:right top;">-100,559.63</div>
<svg style="position:absolute;left:407.70px;top:641.20px" width="9" height="12" viewBox="0 0 9 12"><path fill="#333" d="M0 0L8.6 6L0 12Z"/></svg>
<div class="t" style="left:425.20px;top:638.36px;font-size:18px;color:#444444;font-weight:normal;transform:scaleX(0.9150);transform-origin:left top;">CP: BANK15</div>
<div style="position:absolute;left:562.00px;top:668.26px;width:147.50px;height:43.76px;background:#dcfcdf;"></div>
<div class="t" style="left:590.50px;top:674.97px;font-size:18.3px;color:#1e821e;font-weight:normal;transform:scaleX(0.9400);transform-origin:left top;">24,533,471.32</div>
<div style="position:absolute;left:711.50px;top:668.26px;width:145.85px;height:43.76px;background:#dcfcdf;"></div>
<div class="t" style="left:740.00px;top:674.97px;font-size:18.3px;color:#1e821e;font-weight:normal;transform:scaleX(0.9400);transform-origin:left top;">24,447,498.64</div>
<div style="position:absolute;left:859.35px;top:668.26px;width:145.80px;height:43.76px;background:#dcfcdf;"></div>
<div class="t" style="right:1054.85px;text-align:right;top:674.97px;font-size:18.3px;color:#1e821e;font-weight:normal;transform:scaleX(0.9400);transform-origin:right top;">1,685.51</div>
<div style="position:absolute;left:1007.15px;top:668.26px;width:145.85px;height:43.76px;background:#fee4e0;"></div>
<div class="t" style="right:907.00px;text-align:right;top:674.97px;font-size:18.3px;color:#ff5722;font-weight:normal;transform:scaleX(0.9400);transform-origin:right top;">-94,518.68</div>
<div style="position:absolute;left:1155.00px;top:668.26px;width:146.00px;height:43.76px;background:#dcfcdf;"></div>
<div class="t" style="right:759.00px;text-align:right;top:674.97px;font-size:18.3px;color:#1e821e;font-weight:normal;transform:scaleX(0.9400);transform-origin:right top;">1,685.51</div>
<div style="position:absolute;left:1303.00px;top:668.26px;width:146.00px;height:43.76px;background:#fee4e0;"></div>
<div class="t" style="right:611.00px;text-align:right;top:674.97px;font-size:18.3px;color:#ff5722;font-weight:normal;transform:scaleX(0.9400);transform-origin:right top;">-94,518.68</div>
<svg style="position:absolute;left:407.70px;top:684.56px" width="9" height="12" viewBox="0 0 9 12"><path fill="#333" d="M0 0L8.6 6L0 12Z"/></svg>
<div class="t" style="left:425.20px;top:681.72px;font-size:18px;color:#444444;font-weight:normal;transform:scaleX(0.9150);transform-origin:left top;">CP: INTERNAL1</div>
<div style="position:absolute;left:562.00px;top:711.62px;width:147.50px;height:43.76px;background:#fee4e0;"></div>
<div class="t" style="right:1350.50px;text-align:right;top:718.33px;font-size:18.3px;color:#ff5722;font-weight:normal;transform:scaleX(0.9400);transform-origin:right top;">-349,193.43</div>
<div style="position:absolute;left:711.50px;top:711.62px;width:145.85px;height:43.76px;background:#fee4e0;"></div>
<div class="t" style="right:1202.65px;text-align:right;top:718.33px;font-size:18.3px;color:#ff5722;font-weight:normal;transform:scaleX(0.9400);transform-origin:right top;">-349,033.35</div>
<div style="position:absolute;left:859.35px;top:711.62px;width:145.80px;height:43.76px;background:#ffffff;"></div>
<div class="t" style="right:1054.85px;text-align:right;top:718.33px;font-size:18.3px;color:#1e821e;font-weight:normal;transform:scaleX(0.9400);transform-origin:right top;">0.00</div>
<div style="position:absolute;left:1007.15px;top:711.62px;width:145.85px;height:43.76px;background:#fee4e0;"></div>
<div class="t" style="right:907.00px;text-align:right;top:718.33px;font-size:18.3px;color:#ff5722;font-weight:normal;transform:scaleX(0.9400);transform-origin:right top;">-8,954.78</div>
<div style="position:absolute;left:1155.00px;top:711.62px;width:146.00px;height:43.76px;background:#ffffff;"></div>
<div class="t" style="right:759.00px;text-align:right;top:718.33px;font-size:18.3px;color:#1e821e;font-weight:normal;transform:scaleX(0.9400);transform-origin:right top;">0.00</div>
<div style="position:absolute;left:1303.00px;top:711.62px;width:146.00px;height:43.76px;background:#fee4e0;"></div>
<div class="t" style="right:611.00px;text-align:right;top:718.33px;font-size:18.3px;color:#ff5722;font-weight:normal;transform:scaleX(0.9400);transform-origin:right top;">-8,954.78</div>
<svg style="position:absolute;left:407.70px;top:727.92px" width="9" height="12" viewBox="0 0 9 12"><path fill="#333" d="M0 0L8.6 6L0 12Z"/></svg>
<div class="t" style="left:425.20px;top:725.08px;font-size:18px;color:#444444;font-weight:normal;transform:scaleX(0.9150);transform-origin:left top;">CP: BANK16</div>
<div style="position:absolute;left:343px;top:754.98px;width:217px;height:43.36px;background:#dcdcdc;"></div>
<div style="position:absolute;left:562.00px;top:754.98px;width:147.50px;height:43.76px;background:#fee4e0;"></div>
<div class="t" style="right:1350.50px;text-align:right;top:761.69px;font-size:18.3px;color:#ff5722;font-weight:normal;transform:scaleX(0.9400);transform-origin:right top;">-845,873.21</div>
<div style="position:absolute;left:711.50px;top:754.98px;width:145.85px;height:43.76px;background:#fee4e0;"></div>
<div class="t" style="right:1202.65px;text-align:right;top:761.69px;font-size:18.3px;color:#ff5722;font-weight:normal;transform:scaleX(0.9400);transform-origin:right top;">-845,113.47</div>
<div style="position:absolute;left:859.35px;top:754.98px;width:145.80px;height:43.76px;background:#bcdec0;"></div>
<div class="t" style="right:1054.85px;text-align:right;top:761.69px;font-size:18.3px;color:#1e821e;font-weight:normal;transform:scaleX(0.9400);transform-origin:right top;">824.93</div>
<div style="position:absolute;left:1007.15px;top:754.98px;width:145.85px;height:43.76px;background:#fee4e0;"></div>
<div class="t" style="right:907.00px;text-align:right;top:761.69px;font-size:18.3px;color:#ff5722;font-weight:normal;transform:scaleX(0.9400);transform-origin:right top;">-5,888.11</div>
<div style="position:absolute;left:1155.00px;top:754.98px;width:146.00px;height:43.76px;background:#bcdec0;"></div>
<div class="t" style="right:759.00px;text-align:right;top:761.69px;font-size:18.3px;color:#1e821e;font-weight:normal;transform:scaleX(0.9400);transform-origin:right top;">824.93</div>
<div style="position:absolute;left:1303.00px;top:754.98px;width:146.00px;height:43.76px;background:#fee4e0;"></div>
<div class="t" style="right:611.00px;text-align:right;top:761.69px;font-size:18.3px;color:#ff5722;font-weight:normal;transform:scaleX(0.9400);transform-origin:right top;">-5,888.11</div>
<svg style="position:absolute;left:407.70px;top:771.28px" width="9" height="12" viewBox="0 0 9 12"><path fill="#111" d="M0 0L8.6 6L0 12Z"/></svg>
<div class="t" style="left:425.20px;top:768.44px;font-size:18px;color:#222;font-weight:normal;transform:scaleX(0.9150);transform-origin:left top;">CP: BANK13</div>
<div style="position:absolute;left:562.00px;top:798.34px;width:147.50px;height:43.76px;background:#fee4e0;"></div>
<div class="t" style="right:1350.50px;text-align:right;top:805.05px;font-size:18.3px;color:#ff5722;font-weight:normal;transform:scaleX(0.9400);transform-origin:right top;">-1,311.45</div>
<div style="position:absolute;left:711.50px;top:798.34px;width:145.85px;height:43.76px;background:#fee4e0;"></div>
<div class="t" style="right:1202.65px;text-align:right;top:805.05px;font-size:18.3px;color:#ff5722;font-weight:normal;transform:scaleX(0.9400);transform-origin:right top;">-1,305.22</div>
<div style="position:absolute;left:859.35px;top:798.34px;width:145.80px;height:43.76px;background:#dcfcdf;"></div>
<div class="t" style="right:1054.85px;text-align:right;top:805.05px;font-size:18.3px;color:#1e821e;font-weight:normal;transform:scaleX(0.9400);transform-origin:right top;">64.91</div>
<div style="position:absolute;left:1007.15px;top:798.34px;width:145.85px;height:43.76px;background:#fee4e0;"></div>
<div class="t" style="right:907.00px;text-align:right;top:805.05px;font-size:18.3px;color:#ff5722;font-weight:normal;transform:scaleX(0.9400);transform-origin:right top;">-303.55</div>
<div style="position:absolute;left:1155.00px;top:798.34px;width:146.00px;height:43.76px;background:#dcfcdf;"></div>
<div class="t" style="right:759.00px;text-align:right;top:805.05px;font-size:18.3px;color:#1e821e;font-weight:normal;transform:scaleX(0.9400);transform-origin:right top;">64.91</div>
<div style="position:absolute;left:1303.00px;top:798.34px;width:146.00px;height:43.76px;background:#fee4e0;"></div>
<div class="t" style="right:611.00px;text-align:right;top:805.05px;font-size:18.3px;color:#ff5722;font-weight:normal;transform:scaleX(0.9400);transform-origin:right top;">-303.55</div>
<svg style="position:absolute;left:407.70px;top:814.64px" width="9" height="12" viewBox="0 0 9 12"><path fill="#333" d="M0 0L8.6 6L0 12Z"/></svg>
<div class="t" style="left:425.20px;top:811.80px;font-size:18px;color:#444444;font-weight:normal;transform:scaleX(0.9150);transform-origin:left top;">CP: BANK17</div>
<div style="position:absolute;left:562.00px;top:841.70px;width:147.50px;height:43.76px;background:#fee4e0;"></div>
<div class="t" style="right:1350.50px;text-align:right;top:848.41px;font-size:18.3px;color:#ff5722;font-weight:normal;transform:scaleX(0.9400);transform-origin:right top;">-5,021,289.74</div>
<div style="position:absolute;left:711.50px;top:841.70px;width:145.85px;height:43.76px;background:#fee4e0;"></div>
<div class="t" style="left:740.00px;top:848.41px;font-size:18.3px;color:#ff5722;font-weight:normal;transform:scaleX(0.9400);transform-origin:left top;">-5,006,730.84</div>
<div style="position:absolute;left:859.35px;top:841.70px;width:145.80px;height:43.76px;background:#dcfcdf;"></div>
<div class="t" style="right:1054.85px;text-align:right;top:848.41px;font-size:18.3px;color:#1e821e;font-weight:normal;transform:scaleX(0.9400);transform-origin:right top;">4.98</div>
<div style="position:absolute;left:1007.15px;top:841.70px;width:145.85px;height:43.76px;background:#fee4e0;"></div>
<div class="t" style="right:907.00px;text-align:right;top:848.41px;font-size:18.3px;color:#ff5722;font-weight:normal;transform:scaleX(0.9400);transform-origin:right top;">-48,688.03</div>
<div style="position:absolute;left:1155.00px;top:841.70px;width:146.00px;height:43.76px;background:#dcfcdf;"></div>
<div class="t" style="right:759.00px;text-align:right;top:848.41px;font-size:18.3px;color:#1e821e;font-weight:normal;transform:scaleX(0.9400);transform-origin:right top;">4.98</div>
<div style="position:absolute;left:1303.00px;top:841.70px;width:146.00px;height:43.76px;background:#fee4e0;"></div>
<div class="t" style="right:611.00px;text-align:right;top:848.41px;font-size:18.3px;color:#ff5722;font-weight:normal;transform:scaleX(0.9400);transform-origin:right top;">-48,688.03</div>
<svg style="position:absolute;left:407.70px;top:858.00px" width="9" height="12" viewBox="0 0 9 12"><path fill="#333" d="M0 0L8.6 6L0 12Z"/></svg>
<div class="t" style="left:425.20px;top:855.16px;font-size:18px;color:#444444;font-weight:normal;transform:scaleX(0.9150);transform-origin:left top;">CP: CLEAR2</div>
<div style="position:absolute;left:562.00px;top:885.06px;width:147.50px;height:43.76px;background:#fee4e0;"></div>
<div class="t" style="right:1350.50px;text-align:right;top:891.77px;font-size:18.3px;color:#ff5722;font-weight:normal;transform:scaleX(0.9400);transform-origin:right top;">-5,681,400.46</div>
<div style="position:absolute;left:711.50px;top:885.06px;width:145.85px;height:43.76px;background:#fee4e0;"></div>
<div class="t" style="left:740.00px;top:891.77px;font-size:18.3px;color:#ff5722;font-weight:normal;transform:scaleX(0.9400);transform-origin:left top;">-5,677,228.20</div>
<div style="position:absolute;left:859.35px;top:885.06px;width:145.80px;height:43.76px;background:#ffffff;"></div>
<div class="t" style="right:1054.85px;text-align:right;top:891.77px;font-size:18.3px;color:#1e821e;font-weight:normal;transform:scaleX(0.9400);transform-origin:right top;">0.00</div>
<div style="position:absolute;left:1007.15px;top:885.06px;width:145.85px;height:43.76px;background:#fee4e0;"></div>
<div class="t" style="right:907.00px;text-align:right;top:891.77px;font-size:18.3px;color:#ff5722;font-weight:normal;transform:scaleX(0.9400);transform-origin:right top;">-13,771.31</div>
<div style="position:absolute;left:1155.00px;top:885.06px;width:146.00px;height:43.76px;background:#ffffff;"></div>
<div class="t" style="right:759.00px;text-align:right;top:891.77px;font-size:18.3px;color:#1e821e;font-weight:normal;transform:scaleX(0.9400);transform-origin:right top;">0.00</div>
<div style="position:absolute;left:1303.00px;top:885.06px;width:146.00px;height:43.76px;background:#fee4e0;"></div>
<div class="t" style="right:611.00px;text-align:right;top:891.77px;font-size:18.3px;color:#ff5722;font-weight:normal;transform:scaleX(0.9400);transform-origin:right top;">-13,771.31</div>
<svg style="position:absolute;left:407.70px;top:901.36px" width="9" height="12" viewBox="0 0 9 12"><path fill="#333" d="M0 0L8.6 6L0 12Z"/></svg>
<div class="t" style="left:425.20px;top:898.52px;font-size:18px;color:#444444;font-weight:normal;transform:scaleX(0.9150);transform-origin:left top;">CP: BANK4</div>
<div style="position:absolute;left:562.00px;top:928.42px;width:147.50px;height:43.76px;background:#fee4e0;"></div>
<div class="t" style="right:1350.50px;text-align:right;top:935.13px;font-size:18.3px;color:#ff5722;font-weight:normal;transform:scaleX(0.9400);transform-origin:right top;">-452,954.88</div>
<div style="position:absolute;left:711.50px;top:928.42px;width:145.85px;height:43.76px;background:#fee4e0;"></div>
<div class="t" style="left:740.00px;top:935.13px;font-size:18.3px;color:#ff5722;font-weight:normal;transform:scaleX(0.9400);transform-origin:left top;">-24,447,498.64</div>
<div style="position:absolute;left:859.35px;top:928.42px;width:145.80px;height:43.76px;background:#dcfcdf;"></div>
<div class="t" style="right:1054.85px;text-align:right;top:935.13px;font-size:18.3px;color:#1e821e;font-weight:normal;transform:scaleX(0.9400);transform-origin:right top;">430,849.62</div>
<div style="position:absolute;left:1007.15px;top:928.42px;width:145.85px;height:43.76px;background:#fee4e0;"></div>
<div class="t" style="right:907.00px;text-align:right;top:935.13px;font-size:18.3px;color:#ff5722;font-weight:normal;transform:scaleX(0.9400);transform-origin:right top;">-29,692.25</div>
<div style="position:absolute;left:1155.00px;top:928.42px;width:146.00px;height:43.76px;background:#dcfcdf;"></div>
<div class="t" style="right:759.00px;text-align:right;top:935.13px;font-size:18.3px;color:#1e821e;font-weight:normal;transform:scaleX(0.9400);transform-origin:right top;">504,609.69</div>
<div style="position:absolute;left:1303.00px;top:928.42px;width:146.00px;height:43.76px;background:#fee4e0;"></div>
<div class="t" style="right:611.00px;text-align:right;top:935.13px;font-size:18.3px;color:#ff5722;font-weight:normal;transform:scaleX(0.9400);transform-origin:right top;">-43,986.59</div>
<svg style="position:absolute;left:384.20px;top:944.72px" width="9" height="12" viewBox="0 0 9 12"><path fill="#333" d="M0 0L8.6 6L0 12Z"/></svg>
<div class="t" style="left:400.78px;top:941.88px;font-size:18px;color:#444444;font-weight:normal;transform:scaleX(0.9150);transform-origin:left top;">P: ENTITY1</div>
<div style="position:absolute;left:560.00px;top:146.5px;width:2px;height:42.5px;background:#e4e4e4;"></div>
<div style="position:absolute;left:709.50px;top:146.5px;width:2px;height:42.5px;background:#e4e4e4;"></div>
<div style="position:absolute;left:857.35px;top:146.5px;width:2px;height:42.5px;background:#e4e4e4;"></div>
<div style="position:absolute;left:1005.15px;top:146.5px;width:2px;height:42.5px;background:#e4e4e4;"></div>
<div style="position:absolute;left:1153.00px;top:146.5px;width:2px;height:42.5px;background:#e4e4e4;"></div>
<div style="position:absolute;left:1301.00px;top:146.5px;width:2px;height:42.5px;background:#e4e4e4;"></div>
<div style="position:absolute;left:1453px;top:146.5px;width:2px;height:42.5px;background:#e4e4e4;"></div>
<div style="position:absolute;left:560px;top:191px;width:2px;height:840px;background:#e4e4e4;"></div>
<div style="position:absolute;left:709.50px;top:191px;width:2px;height:780.48px;background:#e4e4e4;"></div>
<div style="position:absolute;left:857.35px;top:191px;width:2px;height:780.48px;background:#e4e4e4;"></div>
<div style="position:absolute;left:1005.15px;top:191px;width:2px;height:780.48px;background:#e4e4e4;"></div>
<div style="position:absolute;left:1153.00px;top:191px;width:2px;height:780.48px;background:#e4e4e4;"></div>
<div style="position:absolute;left:1301.00px;top:191px;width:2px;height:780.48px;background:#e4e4e4;"></div>
<div style="position:absolute;left:1455px;top:191px;width:15px;height:840px;background:#f3f3f3;"></div>
<div style="position:absolute;left:1470px;top:146.5px;width:1.5px;height:900px;background:#e6e6e6;"></div>
<div style="position:absolute;left:1482px;top:63.8px;width:561px;height:980px;background:#fff;border:1px solid #e6e6e6;border-top:1.5px solid #d0d0d0;border-radius:6px;box-shadow:0 -1px 1px rgba(0,0,0,.10),0 0 3px rgba(0,0,0,.08);"></div>
<div class="t" style="left:1512.05px;top:94.26px;font-size:21.9px;color:#212121;font-weight:bold;transform:scaleX(0.9510);transform-origin:left top;">Profiles (CP: BANK13)</div>
<svg style="position:absolute;left:1986.5px;top:86.8px;" width="36" height="36" viewBox="0 0 24 24"><path fill="#212121" d="M19 12h-2v3h-3v2h5v-5zM7 9h3V7H5v5h2V9zm14-6H3c-1.1 0-2 .9-2 2v14c0 1.1.9 2 2 2h18c1.1 0 2-.9 2-2V5c0-1.1-.9-2-2-2zm0 16.010H3V4.990h18v14.02z"/></svg>
<svg style="position:absolute;left:1483px;top:130px" width="562" height="895" viewBox="1483 130 562 895" font-family="Liberation Sans">
<defs><clipPath id="pc"><rect x="1564" y="160" width="306.7" height="294"/></clipPath></defs>
<line x1="1626.3" y1="167" x2="1626.3" y2="453.8" stroke="#ebebeb" stroke-width="1.6"/>
<line x1="1716.9" y1="167" x2="1716.9" y2="453.8" stroke="#ebebeb" stroke-width="1.6"/>
<line x1="1807.5" y1="167" x2="1807.5" y2="453.8" stroke="#ebebeb" stroke-width="1.6"/>
<line x1="1564" y1="336.9" x2="1870.7" y2="336.9" stroke="#ebebeb" stroke-width="1.6"/>
<line x1="1564" y1="423.8" x2="1870.7" y2="423.8" stroke="#ebebeb" stroke-width="1.6"/>
<line x1="1564" y1="250" x2="1870.7" y2="250" stroke="#444" stroke-width="2"/>
<g clip-path="url(#pc)">
<polyline points="1585.4,250 1600.4,230.5 1615.1,211 1664.1,189.7 1720.7,212.4 1856.5,250 1880,250.8" fill="none" stroke="#7f7f7f" stroke-width="2.3" stroke-linejoin="round"/>
<polyline points="1585.4,393.8 1600.4,392.7 1615.1,390.7 1664.1,282.3 1720.7,251.1 1856.5,250 1880,250" fill="none" stroke="#ff7f0e" stroke-width="2.3" stroke-linejoin="round"/>
<polyline points="1585.4,393.8 1600.4,392.7 1615.1,390.7 1664.1,282.3 1720.7,251.1 1856.5,250 1880,250" fill="none" stroke="#2ca02c" stroke-width="2.3" stroke-linejoin="round"/>
<polyline points="1585.4,396.3 1600.4,416.2 1615.1,434 1664.1,346 1720.7,288.8 1856.5,250 1880,250" fill="none" stroke="#9467bd" stroke-width="2.3" stroke-linejoin="round"/>
<polyline points="1585.4,396.3 1600.4,416.2 1615.1,434 1664.1,346 1720.7,288.8 1856.5,250 1880,250" fill="none" stroke="#e377c2" stroke-width="2.3" stroke-linejoin="round"/>
<polyline points="1585.4,250 1600.4,228.1 1615.1,206.7 1664.1,186.9 1720.7,212.4 1856.5,250 1880,250.8" fill="none" stroke="#d62728" stroke-width="2.3" stroke-linejoin="round"/>
<polyline points="1585.4,250 1600.4,243.5 1615.1,242.6 1664.1,243 1720.7,244.9 1856.5,246.9 1880,247" fill="none" stroke="#8c564b" stroke-width="2.3" stroke-linejoin="round"/>
<circle cx="1585.4" cy="250" r="4.6" fill="#7f7f7f" fill-opacity="0.22"/>
<circle cx="1600.4" cy="230.5" r="4.6" fill="#7f7f7f" fill-opacity="0.22"/>
<circle cx="1615.1" cy="211" r="4.6" fill="#7f7f7f" fill-opacity="0.22"/>
<circle cx="1664.1" cy="189.7" r="4.6" fill="#7f7f7f" fill-opacity="0.22"/>
<circle cx="1720.7" cy="212.4" r="4.6" fill="#7f7f7f" fill-opacity="0.22"/>
<circle cx="1856.5" cy="250" r="4.6" fill="#7f7f7f" fill-opacity="0.22"/>
<circle cx="1585.4" cy="393.8" r="4.6" fill="#ff7f0e" fill-opacity="0.22"/>
<circle cx="1600.4" cy="392.7" r="4.6" fill="#ff7f0e" fill-opacity="0.22"/>
<circle cx="1615.1" cy="390.7" r="4.6" fill="#ff7f0e" fill-opacity="0.22"/>
<circle cx="1664.1" cy="282.3" r="4.6" fill="#ff7f0e" fill-opacity="0.22"/>
<circle cx="1720.7" cy="251.1" r="4.6" fill="#ff7f0e" fill-opacity="0.22"/>
<circle cx="1856.5" cy="250" r="4.6" fill="#ff7f0e" fill-opacity="0.22"/>
<circle cx="1585.4" cy="393.8" r="4.6" fill="#2ca02c" fill-opacity="0.22"/>
<circle cx="1600.4" cy="392.7" r="4.6" fill="#2ca02c" fill-opacity="0.22"/>
<circle cx="1615.1" cy="390.7" r="4.6" fill="#2ca02c" fill-opacity="0.22"/>
<circle cx="1664.1" cy="282.3" r="4.6" fill="#2ca02c" fill-opacity="0.22"/>
<circle cx="1720.7" cy="251.1" r="4.6" fill="#2ca02c" fill-opacity="0.22"/>
<circle cx="1856.5" cy="250" r="4.6" fill="#2ca02c" fill-opacity="0.22"/>
<circle cx="1585.4" cy="396.3" r="4.6" fill="#9467bd" fill-opacity="0.22"/>
<circle cx="1600.4" cy="416.2" r="4.6" fill="#9467bd" fill-opacity="0.22"/>
<circle cx="1615.1" cy="434" r="4.6" fill="#9467bd" fill-opacity="0.22"/>
<circle cx="1664.1" cy="346" r="4.6" fill="#9467bd" fill-opacity="0.22"/>
<circle cx="1720.7" cy="288.8" r="4.6" fill="#9467bd" fill-opacity="0.22"/>
<circle cx="1856.5" cy="250" r="4.6" fill="#9467bd" fill-opacity="0.22"/>
<circle cx="1585.4" cy="396.3" r="4.6" fill="#e377c2" fill-opacity="0.22"/>
<circle cx="1600.4" cy="416.2" r="4.6" fill="#e377c2" fill-opacity="0.22"/>
<circle cx="1615.1" cy="434" r="4.6" fill="#e377c2" fill-opacity="0.22"/>
<circle cx="1664.1" cy="346" r="4.6" fill="#e377c2" fill-opacity="0.22"/>
<circle cx="1720.7" cy="288.8" r="4.6" fill="#e377c2" fill-opacity="0.22"/>
<circle cx="1856.5" cy="250" r="4.6" fill="#e377c2" fill-opacity="0.22"/>
<circle cx="1585.4" cy="250" r="4.6" fill="#d62728" fill-opacity="0.22"/>
<circle cx="1600.4" cy="228.1" r="4.6" fill="#d62728" fill-opacity="0.22"/>
<circle cx="1615.1" cy="206.7" r="4.6" fill="#d62728" fill-opacity="0.22"/>
<circle cx="1664.1" cy="186.9" r="4.6" fill="#d62728" fill-opacity="0.22"/>
<circle cx="1720.7" cy="212.4" r="4.6" fill="#d62728" fill-opacity="0.22"/>
<circle cx="1856.5" cy="250" r="4.6" fill="#d62728" fill-opacity="0.22"/>
<circle cx="1585.4" cy="250" r="4.6" fill="#8c564b" fill-opacity="0.22"/>
<circle cx="1600.4" cy="243.5" r="4.6" fill="#8c564b" fill-opacity="0.22"/>
<circle cx="1615.1" cy="242.6" r="4.6" fill="#8c564b" fill-opacity="0.22"/>
<circle cx="1664.1" cy="243" r="4.6" fill="#8c564b" fill-opacity="0.22"/>
<circle cx="1720.7" cy="244.9" r="4.6" fill="#8c564b" fill-opacity="0.22"/>
<circle cx="1856.5" cy="246.9" r="4.6" fill="#8c564b" fill-opacity="0.22"/>
</g>
<text x="1561.3" y="256" font-size="17" fill="#444" text-anchor="end" >0</text>
<text x="1561.3" y="343" font-size="17" fill="#444" text-anchor="end" textLength="43" lengthAdjust="spacingAndGlyphs" >&#8722;0.5M</text>
<text x="1561.3" y="429.8" font-size="17" fill="#444" text-anchor="end" textLength="37.4" lengthAdjust="spacingAndGlyphs" >&#8722;1M</text>
<text x="1626.3" y="473.9" font-size="17" fill="#444" text-anchor="middle" textLength="43.1" lengthAdjust="spacingAndGlyphs" >2020</text>
<text x="1716.9" y="473.9" font-size="17" fill="#444" text-anchor="middle" textLength="43.1" lengthAdjust="spacingAndGlyphs" >2022</text>
<text x="1807.5" y="473.9" font-size="17" fill="#444" text-anchor="middle" textLength="43.1" lengthAdjust="spacingAndGlyphs" >2024</text>
<text x="1717.5" y="502.1" font-size="21" fill="#444" text-anchor="middle" textLength="58.5" lengthAdjust="spacingAndGlyphs" >Dates</text>
<text x="0" y="0" font-size="22" fill="#444" text-anchor="middle" textLength="66.5" lengthAdjust="spacingAndGlyphs" transform="translate(1511,310.7) rotate(-90)">Values</text>
<line x1="1883.7" y1="188.0" x2="1928.2" y2="188.0" stroke="#7f7f7f" stroke-width="2.3"/>
<circle cx="1906" cy="188.0" r="4.6" fill="#7f7f7f" fill-opacity="0.22"/>
<text x="1936.7" y="195.0" font-size="18" fill="#444" text-anchor="start" textLength="33.2" lengthAdjust="spacingAndGlyphs" >ECE</text>
<line x1="1883.7" y1="216.06" x2="1928.2" y2="216.06" stroke="#ff7f0e" stroke-width="2.3"/>
<circle cx="1906" cy="216.06" r="4.6" fill="#ff7f0e" fill-opacity="0.22"/>
<text x="1936.7" y="223.06" font-size="18" fill="#444" text-anchor="start" textLength="50" lengthAdjust="spacingAndGlyphs" >EMTM</text>
<line x1="1883.7" y1="244.12" x2="1928.2" y2="244.12" stroke="#2ca02c" stroke-width="2.3"/>
<circle cx="1906" cy="244.12" r="4.6" fill="#2ca02c" fill-opacity="0.22"/>
<text x="1936.7" y="251.12" font-size="18" fill="#444" text-anchor="start" textLength="61.1" lengthAdjust="spacingAndGlyphs" >EMTM2</text>
<line x1="1883.7" y1="272.18" x2="1928.2" y2="272.18" stroke="#9467bd" stroke-width="2.3"/>
<circle cx="1906" cy="272.18" r="4.6" fill="#9467bd" fill-opacity="0.22"/>
<text x="1936.7" y="279.18" font-size="18" fill="#444" text-anchor="start" textLength="33.8" lengthAdjust="spacingAndGlyphs" >ENE</text>
<line x1="1883.7" y1="300.24" x2="1928.2" y2="300.24" stroke="#e377c2" stroke-width="2.3"/>
<circle cx="1906" cy="300.24" r="4.6" fill="#e377c2" fill-opacity="0.22"/>
<text x="1936.7" y="307.24" font-size="18" fill="#444" text-anchor="start" textLength="74.2" lengthAdjust="spacingAndGlyphs" >ENE-Coll</text>
<line x1="1883.7" y1="328.29999999999995" x2="1928.2" y2="328.29999999999995" stroke="#d62728" stroke-width="2.3"/>
<circle cx="1906" cy="328.29999999999995" r="4.6" fill="#d62728" fill-opacity="0.22"/>
<text x="1936.7" y="335.29999999999995" font-size="18" fill="#444" text-anchor="start" textLength="31.8" lengthAdjust="spacingAndGlyphs" >EPE</text>
<line x1="1883.7" y1="356.36" x2="1928.2" y2="356.36" stroke="#8c564b" stroke-width="2.3"/>
<circle cx="1906" cy="356.36" r="4.6" fill="#8c564b" fill-opacity="0.22"/>
<text x="1936.7" y="363.36" font-size="18" fill="#444" text-anchor="start" textLength="72.2" lengthAdjust="spacingAndGlyphs" >EPE-Coll</text>
<g fill="#c8c8c8"><path d="M1650.7 150.2q0-2 2-2h4.5l2-3h7.5l2 3h4.1q2 0 2 2v11.7q0 2-2 2h-20.1q-2 0-2-2z"/></g>
<circle cx="1662.7" cy="156.3" r="4.6" fill="none" stroke="#fff" stroke-width="2.2"/>
<circle cx="1671.2" cy="150.6" r="0.9" fill="#fff"/>
<circle cx="1707" cy="152" r="8.2" fill="#5a5a5a"/>
<path d="M1711.5 157.5L1721.6 166.3" stroke="#5a5a5a" stroke-width="4"/>
<rect x="1702.3" y="147.3" width="9.4" height="9.4" fill="none" stroke="#fff" stroke-width="1.5"/>
<rect x="1704" y="149" width="6" height="6" fill="#5a5a5a"/>
<path fill="#c8c8c8" d="M1745.5 143.2l4.6 4.6h-3.2v5.8h5.8v-3.2l4.5 4.4-4.5 4.5v-3.2h-5.8v5.8h3.2l-4.6 4.4-4.5-4.4h3.1v-5.8h-5.8v3.2l-4.5-4.5 4.5-4.4v3.2h5.8v-5.8h-3.1z"/>
<rect x="1782.2" y="144.4" width="21.5" height="20.9" fill="#c8c8c8"/>
<path d="M1792.95 148.6v12.5M1786.7 154.85h12.5" stroke="#fff" stroke-width="3.2"/>
<rect x="1817.3" y="144.4" width="21.5" height="20.9" fill="#c8c8c8"/>
<path d="M1821.8 154.85h12.5" stroke="#fff" stroke-width="3.2"/>
<path fill="none" stroke="#c8c8c8" stroke-width="1.6" d="M1852.7 148.7v-4.7h4.7M1870.4 144h4.7v4.7M1875.1 160.8v4.7h-4.7M1857.4 165.5h-4.7v-4.7"/>
<path fill="none" stroke="#c8c8c8" stroke-width="1.8" d="M1856.5 148.5l14.8 12.5M1871.3 148.5l-14.8 12.5"/>
<path fill="#c8c8c8" d="M1855.8 147.8h5l-5 4zM1872 147.8h-5l5 4zM1855.8 161.7h5l-5-4zM1872 161.7h-5l5-4z"/>
<path fill="#c8c8c8" d="M1899.1 145.7l10.8 9-1.5 1.6-9.3-7.6-9.3 7.6-1.4-1.6zM1905 146.5h2.6v4.6l-2.6-2.1zM1891.2 156.2l7.9-6.5 7.9 6.5v7.1h-5.5v-5.3h-4.8v5.3h-5.5z"/>
<g fill="#5a5a5a"><circle cx="1950.5" cy="148.2" r="3.2"/><rect x="1934.5" y="146.5" width="3" height="3"/><rect x="1940.3" y="146.5" width="3" height="3"/><rect x="1949" y="154" width="3" height="3"/><rect x="1949" y="160.3" width="3" height="3"/></g>
<path fill="#c8c8c8" d="M1970 154.75l6-6.05h17.9v12.1h-17.9z"/>
<path fill="#6e6e6e" d="M2009.6 145.2h20v8.3h-20l-4.4-4.15zM2009.6 155.6h20v8.3h-20l-4.4-4.15z"/>
<rect x="1521" y="537.3" width="485.2" height="50" rx="5" fill="#fff" stroke="#c4c4c4" stroke-width="1.6"/>
</svg>
<svg style="position:absolute;left:1597.3px;top:544.5px;" width="36" height="36" viewBox="0 0 24 24"><path fill="#212121" d="M19 9h-4V3H9v6H5l7 7 7-7zM5 18v2h14v-2H5z"/></svg>
<div class="t" style="left:1661.97px;top:553.12px;font-size:21px;color:#333333;font-weight:normal;transform:scaleX(1.0275);transform-origin:left top;">DOWNLOAD CHART DATA</div>
<svg style="position:absolute;left:1483px;top:620px" width="562" height="405" viewBox="1483 620 562 405" font-family="Liberation Sans">
<text x="1765.2" y="657.8" font-size="18.6" fill="#555" text-anchor="middle" textLength="115.6" lengthAdjust="spacingAndGlyphs" >Waterfall chart</text>
<line x1="1585.4" y1="687.20" x2="2029.1" y2="687.20" stroke="#e6e6e6" stroke-width="1.6"/>
<text x="1575.7" y="692.70" font-size="16" fill="#4a4a4a" text-anchor="end" textLength="78.5" lengthAdjust="spacingAndGlyphs" >50000000</text>
<line x1="1585.4" y1="710.84" x2="2029.1" y2="710.84" stroke="#e6e6e6" stroke-width="1.6"/>
<text x="1575.7" y="716.34" font-size="16" fill="#4a4a4a" text-anchor="end" textLength="78.5" lengthAdjust="spacingAndGlyphs" >49800000</text>
<line x1="1585.4" y1="734.47" x2="2029.1" y2="734.47" stroke="#e6e6e6" stroke-width="1.6"/>
<text x="1575.7" y="739.97" font-size="16" fill="#4a4a4a" text-anchor="end" textLength="78.5" lengthAdjust="spacingAndGlyphs" >49600000</text>
<line x1="1585.4" y1="758.11" x2="2029.1" y2="758.11" stroke="#e6e6e6" stroke-width="1.6"/>
<text x="1575.7" y="763.61" font-size="16" fill="#4a4a4a" text-anchor="end" textLength="78.5" lengthAdjust="spacingAndGlyphs" >49400000</text>
<line x1="1585.4" y1="781.74" x2="2029.1" y2="781.74" stroke="#e6e6e6" stroke-width="1.6"/>
<text x="1575.7" y="787.24" font-size="16" fill="#4a4a4a" text-anchor="end" textLength="78.5" lengthAdjust="spacingAndGlyphs" >49200000</text>
<line x1="1585.4" y1="805.38" x2="2029.1" y2="805.38" stroke="#e6e6e6" stroke-width="1.6"/>
<text x="1575.7" y="810.88" font-size="16" fill="#4a4a4a" text-anchor="end" textLength="78.5" lengthAdjust="spacingAndGlyphs" >49000000</text>
<line x1="1585.4" y1="829.02" x2="2029.1" y2="829.02" stroke="#e6e6e6" stroke-width="1.6"/>
<text x="1575.7" y="834.52" font-size="16" fill="#4a4a4a" text-anchor="end" textLength="78.5" lengthAdjust="spacingAndGlyphs" >48800000</text>
<line x1="1585.4" y1="852.65" x2="2029.1" y2="852.65" stroke="#e6e6e6" stroke-width="1.6"/>
<text x="1575.7" y="858.15" font-size="16" fill="#4a4a4a" text-anchor="end" textLength="78.5" lengthAdjust="spacingAndGlyphs" >48600000</text>
<line x1="1585.4" y1="876.29" x2="2029.1" y2="876.29" stroke="#e6e6e6" stroke-width="1.6"/>
<text x="1575.7" y="881.79" font-size="16" fill="#4a4a4a" text-anchor="end" textLength="78.5" lengthAdjust="spacingAndGlyphs" >48400000</text>
<line x1="1585.4" y1="899.92" x2="2029.1" y2="899.92" stroke="#e6e6e6" stroke-width="1.6"/>
<text x="1575.7" y="905.42" font-size="16" fill="#4a4a4a" text-anchor="end" textLength="78.5" lengthAdjust="spacingAndGlyphs" >48200000</text>
<line x1="1585.4" y1="923.56" x2="2029.1" y2="923.56" stroke="#e6e6e6" stroke-width="1.6"/>
<text x="1575.7" y="929.06" font-size="16" fill="#4a4a4a" text-anchor="end" textLength="78.5" lengthAdjust="spacingAndGlyphs" >48000000</text>
<line x1="1585.4" y1="947.20" x2="2029.1" y2="947.20" stroke="#e6e6e6" stroke-width="1.6"/>
<text x="1575.7" y="952.70" font-size="16" fill="#4a4a4a" text-anchor="end" textLength="78.5" lengthAdjust="spacingAndGlyphs" >47800000</text>
<line x1="1591.8" y1="687.2" x2="1591.8" y2="953.3" stroke="#e6e6e6" stroke-width="1.6"/>
<line x1="1701" y1="687.2" x2="1701" y2="953.3" stroke="#e6e6e6" stroke-width="1.6"/>
<line x1="1810.2" y1="687.2" x2="1810.2" y2="953.3" stroke="#e6e6e6" stroke-width="1.6"/>
<line x1="1919.6" y1="687.2" x2="1919.6" y2="953.3" stroke="#e6e6e6" stroke-width="1.6"/>
<line x1="2029" y1="687.2" x2="2029" y2="953.3" stroke="#e6e6e6" stroke-width="1.6"/>
<line x1="1609" y1="804.5" x2="1792.4" y2="804.5" stroke="#dedede" stroke-width="1.8"/>
<line x1="1718" y1="854.2" x2="1901" y2="854.2" stroke="#dedede" stroke-width="1.8"/>
<line x1="1827.5" y1="711.5" x2="2010.2" y2="711.5" stroke="#dedede" stroke-width="1.8"/>
<rect x="1609" y="805.3" width="73.4" height="141.9" fill="#e6e6e6"/>
<rect x="1718" y="805.4" width="74" height="48" fill="#fee3df"/>
<rect x="1827.5" y="712.4" width="73.5" height="141" fill="#dcfcdc"/>
<rect x="1937" y="712.4" width="73.2" height="234.8" fill="#e6e6e6"/>
<text x="1645.7" y="787.6" font-size="16" fill="#111" text-anchor="middle" textLength="104" lengthAdjust="spacingAndGlyphs" >49,008,768.30</text>
<text x="1754.5" y="881.2" font-size="16" fill="#111" text-anchor="middle" textLength="85.9" lengthAdjust="spacingAndGlyphs" >-426,357.91</text>
<text x="1864.5" y="694.7" font-size="16" fill="#111" text-anchor="middle" textLength="92.4" lengthAdjust="spacingAndGlyphs" >1,211,507.50</text>
<text x="1974" y="694.7" font-size="16" fill="#111" text-anchor="middle" textLength="103.5" lengthAdjust="spacingAndGlyphs" >49,793,917.89</text>
<text x="1645" y="976.3" font-size="17" fill="#555" text-anchor="middle" textLength="36" lengthAdjust="spacingAndGlyphs" >NPV</text>
<text x="1755" y="976.3" font-size="17" fill="#555" text-anchor="middle" textLength="34.5" lengthAdjust="spacingAndGlyphs" >CVA</text>
<text x="1864.5" y="976.3" font-size="17" fill="#555" text-anchor="middle" textLength="35" lengthAdjust="spacingAndGlyphs" >DVA</text>
<text x="1974.3" y="976.3" font-size="17" fill="#555" text-anchor="middle" textLength="34" lengthAdjust="spacingAndGlyphs" >EVA</text>
<rect x="1505" y="993" width="15.2" height="13.8" fill="#008000"/>
<rect x="1600" y="993" width="15.3" height="13.8" fill="#008000"/>
<text x="1535.5" y="1006" font-size="18" fill="#2d8a2d" text-anchor="start" textLength="34.5" lengthAdjust="spacingAndGlyphs" >CVA</text>
<text x="1631" y="1006" font-size="18" fill="#2d8a2d" text-anchor="start" textLength="36.2" lengthAdjust="spacingAndGlyphs" >DVA</text>
</svg>
</body></html>
